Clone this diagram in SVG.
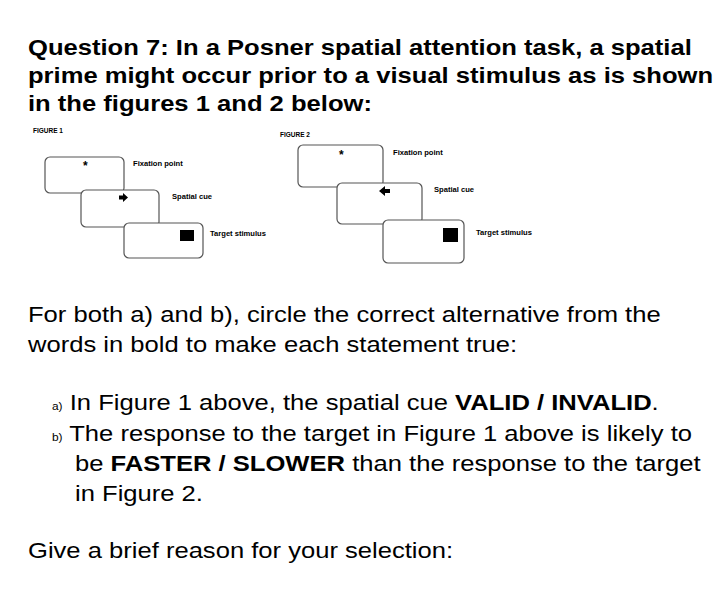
<svg xmlns="http://www.w3.org/2000/svg" width="722" height="614" viewBox="0 0 722 614">
<style>
text{font-family:"Liberation Sans",Arial,sans-serif;fill:#000}
.t{font-size:21.5px;font-weight:bold}
.b{font-size:21.5px}
.s{font-size:10px}
.f{font-size:6.5px;font-weight:bold}
.l{font-size:7.6px;font-weight:bold}
.st{font-size:12px;font-weight:bold}
.box{fill:#fff;stroke:#555;stroke-width:1.2}
</style>
<rect width="722" height="614" fill="#fff"/>
<g transform="translate(28,0) scale(1.19,1)">
<text class="t" x="0" y="55">Question 7: In a Posner spatial attention task, a spatial</text>
<text class="t" x="0" y="83">prime might occur prior to a visual stimulus as is shown</text>
<text class="t" x="0" y="111">in the figures 1 and 2 below:</text>
</g>
<g id="figure1">
<text class="f" x="33" y="133">FIGURE 1</text>
<g id="f1-fix"><rect class="box" x="45" y="157" width="79" height="36" rx="5"/><text class="st" x="83" y="170">*</text><text class="l" x="133" y="166">Fixation point</text></g>
<g id="f1-cue"><rect class="box" x="81" y="190" width="78" height="37" rx="5"/><path d="M119,195.5h4v-2.5l5,4.5l-5,4.5v-2.5h-4z" fill="#000"/><text class="l" x="172" y="199">Spatial cue</text></g>
<g id="f1-target"><rect class="box" x="124" y="223" width="79" height="35" rx="5"/><rect x="180" y="230" width="14" height="11" fill="#000"/><text class="l" x="210" y="236">Target stimulus</text></g>
</g>
<g id="figure2">
<text class="f" x="280" y="137">FIGURE 2</text>
<g id="f2-fix"><rect class="box" x="298" y="145" width="85" height="42" rx="5"/><text class="st" x="339" y="159">*</text><text class="l" x="393" y="155">Fixation point</text></g>
<g id="f2-cue"><rect class="box" x="337" y="183" width="85" height="41" rx="5"/><path d="M390,189h-5v-3l-6,5l6,5v-3h5z" fill="#000"/><text class="l" x="434" y="192">Spatial cue</text></g>
<g id="f2-target"><rect class="box" x="383" y="220" width="81" height="43" rx="5"/><rect x="443" y="228" width="15" height="14" fill="#000"/><text class="l" x="476" y="235">Target stimulus</text></g>
</g>
<g transform="translate(28,0) scale(1.19,1)">
<text class="b" x="0" y="322">For both a) and b), circle the correct alternative from the</text>
<text class="b" x="0" y="352">words in bold to make each statement true:</text>
<text class="b" x="0" y="558">Give a brief reason for your selection:</text>
</g>
<g transform="translate(52,0) scale(1.19,1)">
<text class="b" x="0" y="410"><tspan class="s">a)</tspan> In Figure 1 above, the spatial cue <tspan font-weight="bold">VALID / INVALID</tspan>.</text>
<text class="b" x="0" y="441"><tspan class="s">b)</tspan> The response to the target in Figure 1 above is likely to</text>
</g>
<g transform="translate(75,0) scale(1.19,1)">
<text class="b" x="0" y="471">be <tspan font-weight="bold">FASTER / SLOWER</tspan> than the response to the target</text>
<text class="b" x="0" y="501">in Figure 2.</text>
</g>
</svg>
